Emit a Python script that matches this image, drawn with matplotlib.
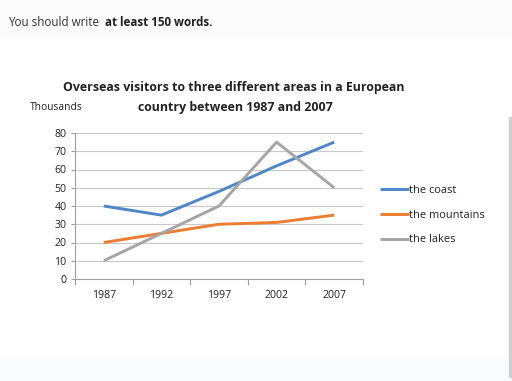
import matplotlib.pyplot as plt
from matplotlib.patches import Rectangle
import numpy as np

# data
years = ['1987', '1992', '1997', '2002', '2007']
coast = [40, 35, 48, 62, 75]
mountains = [20, 25, 30, 31, 35]
lakes = [10, 25, 40, 75, 50]
labels = ['the coast', 'the mountains', 'the lakes']
colors = ['#4F86C6', '#ED7D31', '#A5A5A5']

W, H = 512, 381
fig = plt.figure(figsize=(W / 100, H / 100), dpi=100)
fig.patch.set_facecolor('white')

# faint page bands top/bottom and scrollbar at right edge
fig.patches.append(Rectangle((0, 1 - 36 / H), 1, 36 / H, transform=fig.transFigure,
                             color='#FBFBFC', zorder=0))
fig.patches.append(Rectangle((0, 0), 1, 22 / H, transform=fig.transFigure,
                             color='#FAFBFC', zorder=0))
fig.patches.append(Rectangle((509 / W, 4 / H), 3 / W, 260 / H, transform=fig.transFigure,
                             color='#D0D0D0', zorder=0))

fig.text(8 / W, 1 - 22 / H, 'You should write', fontsize=8.4, family='Open Sans',
         color='#333333', va='center', ha='left')
fig.text(105 / W, 1 - 22 / H, 'at least 150 words.', fontsize=8.4, family='Open Sans',
         fontweight='bold', color='#222222', va='center', ha='left')

# chart
ax = fig.add_axes([75 / W, 102 / H, 288 / W, 146 / H])
x = np.arange(len(years))
for vals, lab, c in zip([coast, mountains, lakes], labels, colors):
    ax.plot(x, vals, color=c, lw=2.1, label=lab, solid_capstyle='butt', zorder=3)

ax.set_xlim(-0.5, len(years) - 0.5)
ax.set_ylim(0, 80)
ax.set_yticks(range(0, 81, 10))
ax.set_xticks(x)
ax.set_xticklabels(years)
ax.set_xticks(np.arange(-0.5, len(years)), minor=True)
ax.tick_params(axis='x', which='major', length=0, pad=8, labelsize=7.6, labelcolor='#222222')
ax.tick_params(axis='x', which='minor', length=4, color='#A0A0A0', width=0.8)
ax.tick_params(axis='y', length=3, color='#A0A0A0', width=0.8, labelsize=7.6,
               labelcolor='#222222', pad=3)
for lbl in ax.get_xticklabels() + ax.get_yticklabels():
    lbl.set_family('Open Sans')
ax.grid(axis='y', color='#C8C8C8', lw=0.8, zorder=0)
ax.set_axisbelow(True)
for s in ['top', 'right']:
    ax.spines[s].set_visible(False)
for s in ['left', 'bottom']:
    ax.spines[s].set_color('#A0A0A0')
    ax.spines[s].set_linewidth(0.8)

fig.text(234 / W, 1 - 88 / H, 'Overseas visitors to three different areas in a European',
         fontsize=8.9, fontweight='bold', family='Open Sans', ha='center', va='center',
         color='#222222')
fig.text(235 / W, 1 - 107 / H, 'country between 1987 and 2007',
         fontsize=8.9, fontweight='bold', family='Open Sans', ha='center', va='center',
         color='#222222')
fig.text(30 / W, 1 - 107 / H, 'Thousands', fontsize=7.4, family='Open Sans',
         ha='left', va='center', color='#222222')

leg = ax.legend(loc='upper left', bbox_to_anchor=(380 / W, 1 - 185 / H),
                bbox_transform=fig.transFigure, frameon=False, handlelength=2.6,
                handletextpad=0.05, labelspacing=1.25, borderaxespad=0, borderpad=0,
                prop={'family': 'Open Sans', 'size': 7.9})
for t in leg.get_texts():
    t.set_color('#222222')

fig.savefig('out.png', dpi=100)
